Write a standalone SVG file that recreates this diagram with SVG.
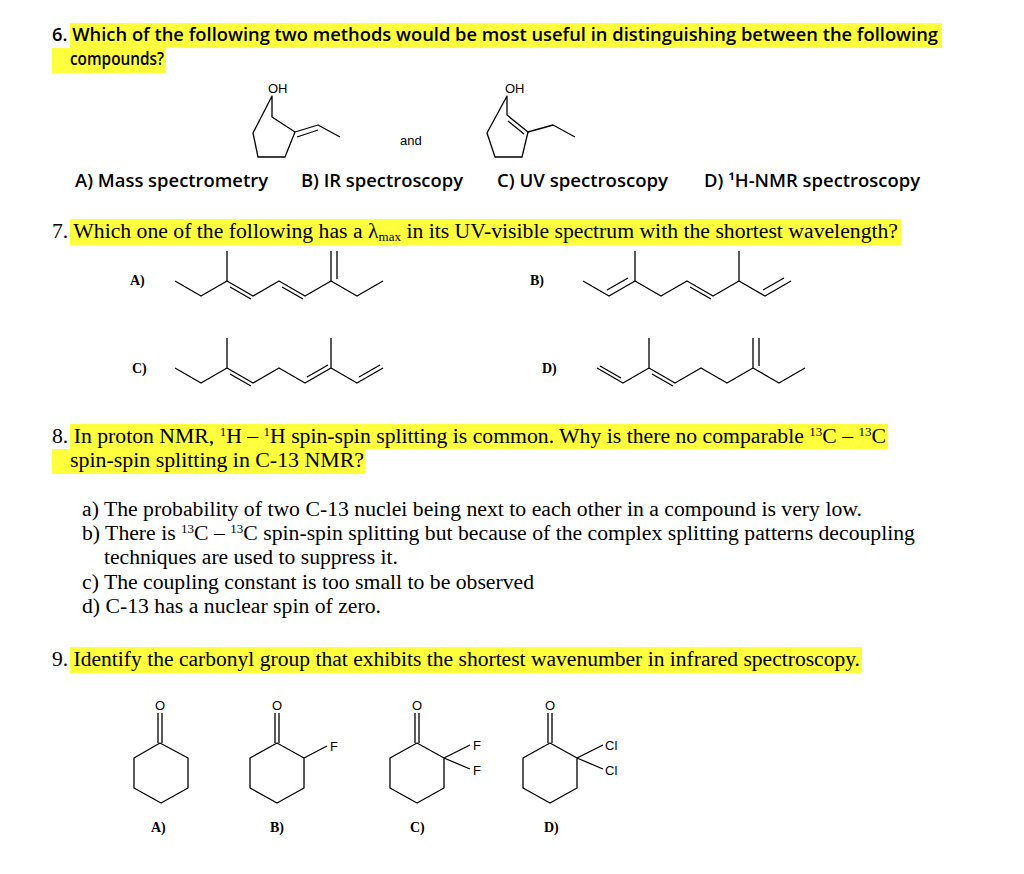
<svg xmlns="http://www.w3.org/2000/svg" width="1024" height="874" viewBox="0 0 1024 874">
<style>
.s{font-family:"Open Sans","Liberation Sans",sans-serif;font-size:17.5px;font-weight:600;fill:#000}
.r{font-family:"Liberation Serif",serif;font-size:20px;fill:#000}
.a{font-family:"Liberation Sans",Arial,sans-serif;font-size:13px;fill:#000}
.l{font-family:"Liberation Serif",serif;font-size:14px;font-weight:bold;fill:#000}
.b{fill:none;stroke:#000;stroke-width:1.3;stroke-linejoin:round}
.hl{fill:#ffff3d}
</style>
<rect width="1024" height="874" fill="#fff"/>
<g id="q6">
<rect class="hl" x="70" y="23" width="872" height="25"/>
<rect class="hl" x="52" y="48" width="114" height="25"/>
<text class="s" x="52" y="41" textLength="886" lengthAdjust="spacingAndGlyphs">6. Which of the following two methods would be most useful in distinguishing between the following</text>
<text class="s" x="70" y="65" textLength="94" lengthAdjust="spacingAndGlyphs">compounds?</text>
<text class="a" x="268" y="93">OH</text>
<path class="b" d="M272,96V117L295,132L285,157H258L253,133Z M295,132L318,125L340,137 M297,137L318,130"/>
<text class="a" x="400" y="145">and</text>
<text class="a" x="505" y="93">OH</text>
<path class="b" d="M507,96V115L528,132L522,157H495L487,133Z M528,132L553,125L575,137 M508,121L524,134"/>
<text class="s" x="75" y="187" textLength="193" lengthAdjust="spacingAndGlyphs">A) Mass spectrometry</text>
<text class="s" x="301" y="187" textLength="162" lengthAdjust="spacingAndGlyphs">B) IR spectroscopy</text>
<text class="s" x="497" y="187" textLength="171" lengthAdjust="spacingAndGlyphs">C) UV spectroscopy</text>
<text class="s" x="704" y="187" textLength="216" lengthAdjust="spacingAndGlyphs">D) ¹H-NMR spectroscopy</text>
</g>
<g id="q7">
<rect class="hl" x="70" y="219" width="831" height="26"/>
<text class="r" x="52" y="238" textLength="846" lengthAdjust="spacingAndGlyphs">7. Which one of the following has a λ<tspan font-size="12" dy="3">max</tspan><tspan dy="-3"> in its UV-visible spectrum with the shortest wavelength?</tspan></text>
<text class="l" x="130" y="285">A)</text>
<path class="b" d="M175,281L201,296L227,281L253,296L279,281L305,296L331,281L357,296L383,281 M227,281V251 M331,281V251 M337,279V251 M230,287L251,299 M282,287L303,299"/>
<text class="l" x="530" y="285">B)</text>
<path class="b" d="M583,281L609,296L635,281L661,296L687,281L713,296L739,281L765,296L791,281 M635,281V251 M739,281V251 M607,290L628,278 M690,287L711,299 M763,290L784,278"/>
<text class="l" x="132" y="373">C)</text>
<path class="b" d="M175,368L201,383L227,368L253,383L279,368L305,383L331,368L357,383L383,368 M227,368V338 M331,368V338 M230,374L251,386 M307,377L328,365 M359,377L380,365"/>
<text class="l" x="542" y="373">D)</text>
<path class="b" d="M597,368L623,383L649,368L675,383L701,368L727,383L753,368L779,383L805,368 M649,368V338 M753,368V338 M759,366V338 M600,366L621,378 M652,374L673,386"/>
</g>
<g id="q8">
<rect class="hl" x="70" y="424" width="818" height="25"/>
<rect class="hl" x="52" y="449" width="313" height="25"/>
<text class="r" x="52" y="443" textLength="834" lengthAdjust="spacingAndGlyphs">8. In proton NMR, <tspan font-size="12" dy="-7">1</tspan><tspan dy="7">H – </tspan><tspan font-size="12" dy="-7">1</tspan><tspan dy="7">H spin-spin splitting is common. Why is there no comparable </tspan><tspan font-size="12" dy="-7">13</tspan><tspan dy="7">C – </tspan><tspan font-size="12" dy="-7">13</tspan><tspan dy="7">C</tspan></text>
<text class="r" x="70" y="467" textLength="294" lengthAdjust="spacingAndGlyphs">spin-spin splitting in C-13 NMR?</text>
<text class="r" x="82" y="516" textLength="780" lengthAdjust="spacingAndGlyphs">a) The probability of two C-13 nuclei being next to each other in a compound is very low.</text>
<text class="r" x="82" y="540" textLength="833" lengthAdjust="spacingAndGlyphs">b) There is <tspan font-size="12" dy="-7">13</tspan><tspan dy="7">C – </tspan><tspan font-size="12" dy="-7">13</tspan><tspan dy="7">C spin-spin splitting but because of the complex splitting patterns decoupling</tspan></text>
<text class="r" x="104" y="564" textLength="294" lengthAdjust="spacingAndGlyphs">techniques are used to suppress it.</text>
<text class="r" x="82" y="589" textLength="452" lengthAdjust="spacingAndGlyphs">c) The coupling constant is too small to be observed</text>
<text class="r" x="82" y="613" textLength="299" lengthAdjust="spacingAndGlyphs">d) C-13 has a nuclear spin of zero.</text>
</g>
<g id="q9">
<rect class="hl" x="70" y="647" width="792" height="26"/>
<text class="r" x="52" y="666" textLength="808" lengthAdjust="spacingAndGlyphs">9. Identify the carbonyl group that exhibits the shortest wavenumber in infrared spectroscopy.</text>
<g id="k">
<text class="a" x="155" y="710">O</text>
<path class="b" d="M158,713V743 M162,713V743 M160,743L188,758V788L161,803L134,788V758Z"/>
</g>
<text class="a" x="272" y="710">O</text>
<path class="b" d="M275,713V743 M279,713V743 M277,743L304,758V788L277,803L250,788V758Z M304,758L327,746"/>
<text class="a" x="330" y="751">F</text>
<text class="a" x="412" y="710">O</text>
<path class="b" d="M415,713V743 M419,713V743 M417,743L444,758V788L417,803L390,788V758Z M444,758L470,745 M444,758L470,769"/>
<text class="a" x="473" y="750">F</text>
<text class="a" x="473" y="775">F</text>
<text class="a" x="545" y="710">O</text>
<path class="b" d="M548,713V743 M552,713V743 M550,743L577,758V788L550,803L523,788V758Z M577,758L603,745 M577,758L603,769"/>
<text class="a" x="605" y="750">Cl</text>
<text class="a" x="605" y="775">Cl</text>
<text class="l" x="151" y="832">A)</text>
<text class="l" x="270" y="832">B)</text>
<text class="l" x="410" y="832">C)</text>
<text class="l" x="544" y="832">D)</text>
</g>
</svg>
